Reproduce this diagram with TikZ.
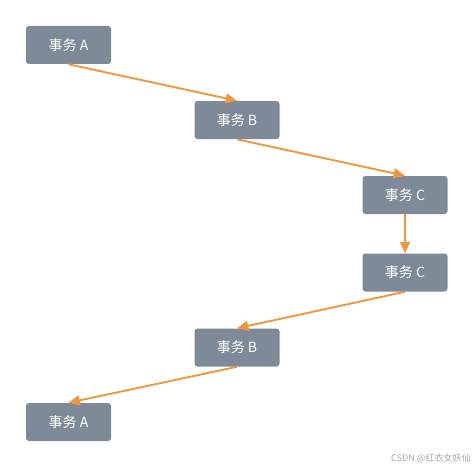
\documentclass[tikz,border=0pt]{standalone}
\usepackage{fontspec}
\setmainfont{Noto Sans CJK SC}
\usetikzlibrary{arrows.meta}
\definecolor{boxgray}{HTML}{7F8A99}
\definecolor{arroworange}{HTML}{F0953A}
\tikzset{%
  block/.style  = {fill=boxgray, rectangle, rounded corners=2.2pt, minimum height = 28.5pt,
    minimum width = 63.75pt, text=white, font=\fontsize{10.5}{12}\selectfont},
  link/.style   = {draw=arroworange, line width=1.4pt},
  mark text/.style = {text=black!35, font=\fontsize{6.8}{8}\selectfont}
}
\begin{document}
\begin{tikzpicture}[x=0.75pt, y=-0.75pt, >={Triangle[length=8.5pt, width=7.5pt]}]
        \useasboundingbox (0,0) rectangle (474,467);
        \draw
        node at(68.5,45)[block, name=TxA1]{事务 A}
        node at(237,120)[block, name=TxB1]{事务 B}
        node at(405,195)[block, name=TxC1]{事务 C}
        node at(405,272.5)[block, name=TxC2]{事务 C}
        node at(237,347.5)[block, name=TxB2]{事务 B}
        node at(68.5,422)[block, name=TxA2]{事务 A};
        \draw[link, ->](TxA1.south) -- (TxB1.north);
        \draw[link, ->](TxB1.south) -- (TxC1.north);
        \draw[link, ->](TxC1.south) -- (TxC2.north);
        \draw[link, ->](TxC2.south) -- (TxB2.north);
        \draw[link, ->](TxB2.south) -- (TxA2.north);
        \node[mark text, name=credit] at(431,458){CSDN @红衣女妖仙};
    \end{tikzpicture}
\end{document}
